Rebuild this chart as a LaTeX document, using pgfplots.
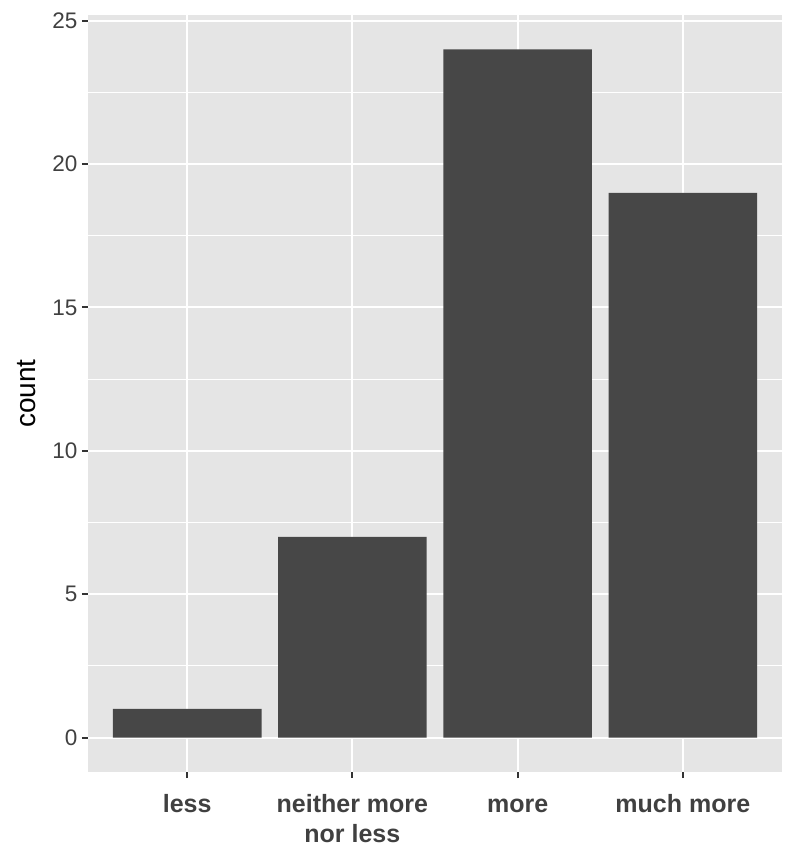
\documentclass[border=0pt]{standalone}
\usepackage{pgfplots}
\pgfplotsset{compat=1.18}
\usepackage{fontspec}
\setmainfont{Liberation Sans}
\definecolor{panel}{HTML}{E5E5E5}
\definecolor{barc}{HTML}{474747}
\definecolor{tickc}{HTML}{333333}
\definecolor{labc}{HTML}{404040}
\begin{document}
\begin{tikzpicture}
\begin{axis}[
  scale only axis,
  width=694pt, height=757pt,
  xmin=0.4, xmax=4.6, ymin=-1.2, ymax=25.2,
  axis line style={draw=none},
  axis background/.style={fill=panel},
  xtick={1,2,3,4},
  xticklabels={\strut less,{\strut neither more\\nor less},\strut more,\strut much more},
  ytick={0,5,10,15,20,25},
  minor ytick={2.5,7.5,12.5,17.5,22.5},
  xtick pos=bottom, ytick pos=left,
  tick align=outside,
  major tick length=6pt,
  minor tick length=0pt,
  major tick style={draw=tickc, line width=2pt},
  grid=both,
  major grid style={draw=white, line width=2pt},
  minor grid style={draw=white, line width=1pt},
  /pgf/number format/assume math mode=true,
  yticklabel style={font=\fontsize{22.5}{26}\selectfont, text=labc, xshift=-1pt},
  xticklabel style={font=\bfseries\fontsize{25}{30}\selectfont, text=labc, align=center, anchor=north, yshift=-10pt},
  ylabel={count},
  ylabel style={at={(axis description cs:0,0.5)}, anchor=center, yshift=61pt, font=\fontsize{28}{32}\selectfont, text=black},
]
\addplot[ybar, bar width=0.9, fill=barc, draw=none] coordinates {(1,1) (2,7) (3,24) (4,19)};
\end{axis}
\path ([xshift=-88pt,yshift=-84pt]current axis.south west) rectangle ([xshift=14pt,yshift=15pt]current axis.north east);
\end{tikzpicture}
\end{document}
